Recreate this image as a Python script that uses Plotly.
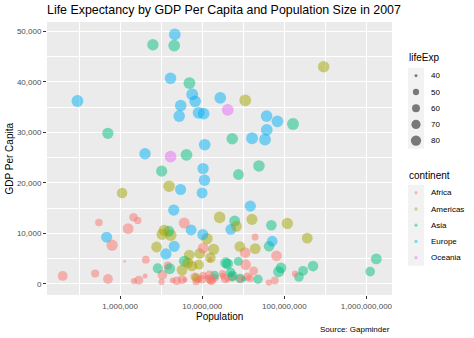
import math
import plotly.graph_objects as go

# ---------------- data (gapminder, 2007) ----------------
country = ["Afghanistan","Albania","Algeria","Angola","Argentina","Australia","Austria","Bahrain","Bangladesh","Belgium",
"Benin","Bolivia","Bosnia and Herzegovina","Botswana","Brazil","Bulgaria","Burkina Faso","Burundi","Cambodia","Cameroon",
"Canada","Central African Republic","Chad","Chile","China","Colombia","Comoros","Congo, Dem. Rep.","Congo, Rep.","Costa Rica",
"Cote d'Ivoire","Croatia","Cuba","Czech Republic","Denmark","Djibouti","Dominican Republic","Ecuador","Egypt","El Salvador",
"Equatorial Guinea","Eritrea","Ethiopia","Finland","France","Gabon","Gambia","Germany","Ghana","Greece",
"Guatemala","Guinea","Guinea-Bissau","Haiti","Honduras","Hong Kong, China","Hungary","Iceland","India","Indonesia",
"Iran","Iraq","Ireland","Israel","Italy","Jamaica","Japan","Jordan","Kenya","Korea, Dem. Rep.",
"Korea, Rep.","Kuwait","Lebanon","Lesotho","Liberia","Libya","Madagascar","Malawi","Malaysia","Mali",
"Mauritania","Mauritius","Mexico","Mongolia","Montenegro","Morocco","Mozambique","Myanmar","Namibia","Nepal",
"Netherlands","New Zealand","Nicaragua","Niger","Nigeria","Norway","Oman","Pakistan","Panama","Paraguay",
"Peru","Philippines","Poland","Portugal","Puerto Rico","Reunion","Romania","Rwanda","Sao Tome and Principe","Saudi Arabia",
"Senegal","Serbia","Sierra Leone","Singapore","Slovak Republic","Slovenia","Somalia","South Africa","Spain","Sri Lanka",
"Sudan","Swaziland","Sweden","Switzerland","Syria","Taiwan","Tanzania","Thailand","Togo","Trinidad and Tobago",
"Tunisia","Turkey","Uganda","United Kingdom","United States","Uruguay","Venezuela","Vietnam","West Bank and Gaza","Yemen, Rep.",
"Zambia","Zimbabwe"]

continent = ["Asia","Europe","Africa","Africa","Americas","Oceania","Europe","Asia","Asia","Europe",
"Africa","Americas","Europe","Africa","Americas","Europe","Africa","Africa","Asia","Africa",
"Americas","Africa","Africa","Americas","Asia","Americas","Africa","Africa","Africa","Americas",
"Africa","Europe","Americas","Europe","Europe","Africa","Americas","Americas","Africa","Americas",
"Africa","Africa","Africa","Europe","Europe","Africa","Africa","Europe","Africa","Europe",
"Americas","Africa","Africa","Americas","Americas","Asia","Europe","Europe","Asia","Asia",
"Asia","Asia","Europe","Asia","Europe","Americas","Asia","Asia","Africa","Asia",
"Asia","Asia","Asia","Africa","Africa","Africa","Africa","Africa","Asia","Africa",
"Africa","Africa","Americas","Asia","Europe","Africa","Africa","Asia","Africa","Asia",
"Europe","Oceania","Americas","Africa","Africa","Europe","Asia","Asia","Americas","Americas",
"Americas","Asia","Europe","Europe","Americas","Africa","Europe","Africa","Africa","Asia",
"Africa","Europe","Africa","Asia","Europe","Europe","Africa","Africa","Europe","Asia",
"Africa","Africa","Europe","Europe","Asia","Asia","Africa","Asia","Africa","Americas",
"Africa","Europe","Africa","Europe","Americas","Americas","Americas","Asia","Asia","Asia",
"Africa","Africa"]

life_exp = [43.828,76.423,72.301,42.731,75.320,81.235,79.829,75.635,64.062,79.441,
56.728,65.554,74.852,50.728,72.390,73.005,52.295,49.580,59.723,50.430,
80.653,44.741,50.651,78.553,72.961,72.889,65.152,46.462,55.322,78.782,
48.328,75.748,78.273,76.486,78.332,54.791,72.235,74.994,71.338,71.878,
51.579,58.040,52.947,79.313,80.657,56.735,59.448,79.406,60.022,79.483,
70.259,56.007,46.388,60.916,70.198,82.208,73.338,81.757,64.698,70.650,
70.964,59.545,78.885,80.745,80.546,72.567,82.603,72.535,54.110,67.297,
78.623,77.588,71.993,42.592,45.678,73.952,59.443,48.303,74.241,54.467,
64.164,72.801,76.195,66.803,74.543,71.164,42.082,62.069,52.906,63.785,
79.762,80.204,72.899,56.867,46.859,80.196,75.640,65.483,75.537,71.752,
71.421,71.688,75.563,78.098,78.746,76.442,72.476,46.242,65.528,72.777,
63.062,74.002,42.568,79.972,74.663,77.926,48.159,49.339,80.941,72.396,
58.556,39.613,80.884,81.701,74.143,78.400,52.517,70.616,58.420,69.819,
73.923,71.777,51.542,79.425,78.242,76.384,73.747,74.249,73.422,62.698,
42.384,43.487]

pop = [31889923,3600523,33333216,12420476,40301927,20434176,8199783,708573,150448339,10392226,
8078314,9119152,4552198,1639131,190010647,7322858,14326203,8390505,14131858,17696293,
33390141,4369038,10238807,16284741,1318683096,44227550,710960,64606759,3800610,4133884,
18013409,4493312,11416987,10228744,5468120,496374,9319622,13755680,80264543,6939688,
551201,4906585,76511887,5238460,61083916,1454867,1688359,82400996,22873338,10706290,
12572928,9947814,1472041,8502814,7483763,6980412,9956108,301931,1110396331,223547000,
69453570,27499638,4109086,6426679,58147733,2780132,127467972,6053193,35610177,23301725,
49044790,2505559,3921278,2012649,3193942,6036914,19167654,13327079,24821286,12031795,
3270065,1250882,108700891,2874127,684736,33757175,19951656,47761980,2055080,28901790,
16570613,4115771,5675356,12894865,135031164,4627926,3204897,169270617,3242173,6667147,
28674757,91077287,38518241,10642836,3942491,798094,22276056,8860588,199579,27601038,
12267493,10150265,6144562,4553009,5447502,2009245,9118773,43997828,40448191,20378239,
42292929,1133066,9031088,7554661,19314747,23174294,38139640,65068149,5701579,1056608,
10276158,71158647,29170398,60776238,301139947,3447496,26084662,85262356,4018332,22211743,
11746035,12311143]

gdp_per_cap = [974.5803,5937.030,6223.367,4797.231,12779.38,34435.37,36126.49,29796.05,1391.254,33692.61,
1441.285,3822.137,7446.299,12569.85,9065.801,10680.79,1217.033,430.0707,1713.779,2042.095,
36319.24,706.0165,1704.064,13171.64,4959.115,7006.580,986.1479,277.5519,3632.558,9645.061,
1544.750,14619.22,8948.103,22833.31,35278.42,2082.482,6025.375,6873.262,5581.181,5728.354,
12154.09,641.3695,690.8056,33207.08,30470.02,13206.48,752.7497,32170.37,1327.609,27538.41,
5186.050,942.6542,579.2317,1201.637,3548.331,39724.98,18008.94,36180.79,2452.210,3540.652,
11605.71,4471.062,40675.00,25523.28,28569.72,7320.880,31656.07,4519.461,1463.249,1593.065,
23348.14,47306.99,10461.06,1569.331,414.5073,12057.50,1044.770,759.3499,12451.66,1042.582,
1803.152,10956.99,11977.57,3095.772,9253.896,3820.175,823.6856,944.0000,4811.060,1091.360,
36797.93,25185.01,2749.321,619.6769,2013.977,49357.19,22316.19,2605.948,9809.186,4172.838,
7408.906,3190.481,15389.92,20509.65,19328.71,7670.123,10808.48,863.0885,1598.435,21654.83,
1712.473,9786.535,862.5408,47143.18,18678.31,25768.26,926.1411,9269.658,28821.06,3970.095,
2602.395,4513.481,33859.75,37506.42,4184.548,28718.28,1107.482,7458.396,882.9699,18008.51,
7092.923,8458.276,1056.380,33203.26,42951.65,10611.46,11415.81,2441.577,3025.350,2280.770,
1271.212,469.7093]

continents = ["Africa", "Americas", "Asia", "Europe", "Oceania"]
continent_colors = ["#F8766D", "#A3A500", "#00BF7D", "#00B0F6", "#E76BF3"]
size_breaks = [40, 50, 60, 70, 80]
x_tick_vals = [1e6, 1e7, 1e8, 1e9]
y_tick_vals = [0, 10000, 20000, 30000, 40000, 50000]

title_text = "Life Expectancy by GDP Per Capita and Population Size in 2007"
x_title = "Population"
y_title = "GDP Per Capita"
caption = "Source: Gapminder"

# ---------------- layout constants (pixels) ----------------
W, H = 474, 338
PL, PR, PT, PB = 47, 392, 22, 295  # panel box
FONT = "Liberation Sans, Arial, sans-serif"
ALPHA = 0.5
D_MIN, D_MAX = 2.5, 12.0

def px2x(px):
    return (px - PL) / (PR - PL)

def py2y(py):
    return (PB - py) / (PB - PT)

lmin, lmax = min(life_exp), max(life_exp)

def diam(v):
    t = max(0.0, (v - lmin) / (lmax - lmin))
    return D_MIN + (D_MAX - D_MIN) * math.sqrt(t)

def rgba(hexc, a):
    h = hexc.lstrip("#")
    return "rgba(%d,%d,%d,%s)" % (int(h[0:2], 16), int(h[2:4], 16), int(h[4:6], 16), a)

cmap = dict(zip(continents, continent_colors))

# axis ranges with ggplot's 5% expansion
lx0, lx1 = math.log10(min(pop)), math.log10(max(pop))
dx = (lx1 - lx0) * 0.05
y0, y1 = min(gdp_per_cap), max(gdp_per_cap)
dy = (y1 - y0) * 0.05

fig = go.Figure()
fig.add_trace(go.Scatter(
    x=pop, y=gdp_per_cap, mode="markers",
    text=country, customdata=continent,
    marker=dict(size=[diam(v) for v in life_exp],
                color=[cmap[c] for c in continent],
                opacity=ALPHA, line=dict(width=0)),
    showlegend=False,
    hovertemplate="%{text}<br>%{customdata}<extra></extra>",
))

shapes = []
annotations = []

# ---------------- legends (drawn by hand in ggplot style) ----------------
KEY_X0, KEY_X1 = 408, 424
KEY_H = 16.2
LABEL_X = 429

def legend_block(title, title_py, first_py, n):
    annotations.append(dict(text=title, xref="paper", yref="paper", x=px2x(407), y=py2y(title_py),
                            xanchor="left", yanchor="middle", showarrow=False,
                            font=dict(family=FONT, size=10, color="black")))
    shapes.append(dict(type="rect", xref="paper", yref="paper", layer="below",
                       x0=px2x(KEY_X0), x1=px2x(KEY_X1),
                       y0=py2y(first_py - KEY_H / 2), y1=py2y(first_py + (n - 0.5) * KEY_H),
                       fillcolor="#F2F2F2", line=dict(width=0)))

def legend_item(i, first_py, label, diameter, color):
    cy = first_py + i * KEY_H
    cx = (KEY_X0 + KEY_X1) / 2
    r = diameter / 2
    shapes.append(dict(type="circle", xref="paper", yref="paper",
                       xsizemode="pixel", ysizemode="pixel",
                       xanchor=px2x(cx), yanchor=py2y(cy),
                       x0=-r, x1=r, y0=-r, y1=r,
                       fillcolor=color, line=dict(width=0)))
    annotations.append(dict(text=label, xref="paper", yref="paper", x=px2x(LABEL_X), y=py2y(cy),
                            xanchor="left", yanchor="middle", showarrow=False,
                            font=dict(family=FONT, size=8, color="black")))

SIZE_TITLE_PY, SIZE_FIRST_PY = 58, 75.8
legend_block("lifeExp", SIZE_TITLE_PY, SIZE_FIRST_PY, len(size_breaks))
for i, b in enumerate(size_breaks):
    legend_item(i, SIZE_FIRST_PY, str(b), diam(b) * 0.88, "rgba(0,0,0,0.5)")

COL_TITLE_PY, COL_FIRST_PY = 175, 192.8
legend_block("continent", COL_TITLE_PY, COL_FIRST_PY, len(continents))
for i, (c, col) in enumerate(zip(continents, continent_colors)):
    legend_item(i, COL_FIRST_PY, c, 3.4, rgba(col, 0.45))

# ---------------- titles ----------------
annotations.append(dict(text=title_text, xref="paper", yref="paper", x=px2x(224), y=py2y(10.5),
                        xanchor="center", yanchor="middle", showarrow=False,
                        font=dict(family=FONT, size=12.4, color="black")))
annotations.append(dict(text=y_title, xref="paper", yref="paper", x=px2x(9), y=0.5,
                        xanchor="center", yanchor="middle", textangle=-90, showarrow=False,
                        font=dict(family=FONT, size=10, color="black")))
annotations.append(dict(text=x_title, xref="paper", yref="paper", x=0.5, y=py2y(316),
                        xanchor="center", yanchor="middle", showarrow=False,
                        font=dict(family=FONT, size=10, color="black")))
annotations.append(dict(text=caption, xref="paper", yref="paper", x=1, y=py2y(329),
                        xanchor="right", yanchor="middle", showarrow=False,
                        font=dict(family=FONT, size=8, color="black")))

fig.update_layout(
    width=W, height=H,
    margin=dict(l=PL, r=W - PR, t=PT, b=H - PB, pad=0),
    paper_bgcolor="white", plot_bgcolor="#EBEBEB",
    font=dict(family=FONT),
    shapes=shapes, annotations=annotations,
    showlegend=False,
)

fig.update_xaxes(
    type="log", range=[lx0 - dx, lx1 + dx],
    tickmode="array", tickvals=x_tick_vals, ticktext=[f"{int(v):,}" for v in x_tick_vals],
    ticks="outside", ticklen=3, tickwidth=1, tickcolor="#333333",
    ticklabelstandoff=0,
    tickfont=dict(family=FONT, size=8, color="#4D4D4D"),
    showgrid=True, gridcolor="white", gridwidth=1,
    minor=dict(tickmode="array",
               tickvals=[10 ** (k + 0.5) for k in range(5, 10) if lx0 - dx < k + 0.5 < lx1 + dx],
               showgrid=True, gridcolor="white", gridwidth=0.5, ticks=""),
    zeroline=False, showline=False,
)
fig.update_yaxes(
    range=[y0 - dy, y1 + dy],
    tickmode="array", tickvals=y_tick_vals, ticktext=[f"{v:,}" for v in y_tick_vals],
    ticks="outside", ticklen=3, tickwidth=1, tickcolor="#333333",
    tickfont=dict(family=FONT, size=8, color="#4D4D4D"),
    showgrid=True, gridcolor="white", gridwidth=1,
    minor=dict(tickmode="array", tickvals=[v + 5000 for v in y_tick_vals[:-1]],
               showgrid=True, gridcolor="white", gridwidth=0.5, ticks=""),
    zeroline=False, showline=False,
)

fig.write_html("out.html")
